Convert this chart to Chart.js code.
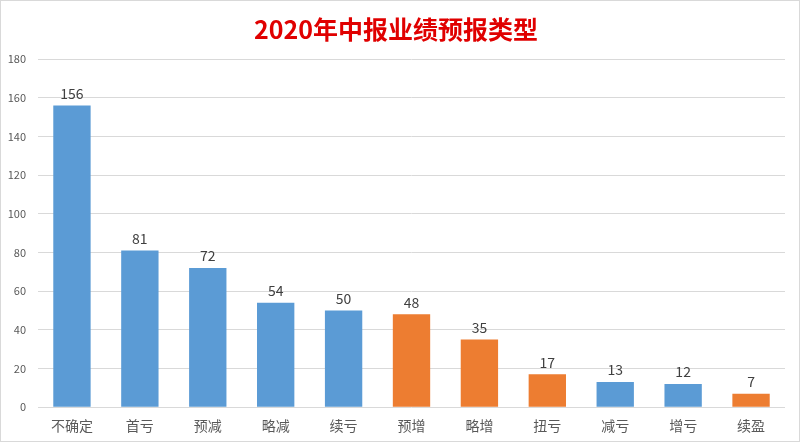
<!DOCTYPE html>
<html>
<head>
<meta charset="utf-8">
<script src="https://cdn.jsdelivr.net/npm/chart.js@4/dist/chart.umd.min.js"></script>
<style>
  html, body { margin: 0; padding: 0; background: #fff; }
  #wrap { position: relative; width: 798px; height: 440px; border: 1px solid #d9d9d9; }
</style>
</head>
<body>
<div id="wrap"><canvas id="reportChart"></canvas></div>
<script>
const categories = ["不确定", "首亏", "预减", "略减", "续亏", "预增", "略增", "扭亏", "减亏", "增亏", "续盈"];
const counts = [156, 81, 72, 54, 50, 48, 35, 17, 13, 12, 7];
const kinds = ["bad", "bad", "bad", "bad", "bad", "good", "good", "good", "bad", "bad", "good"];
const yTicks = [0, 20, 40, 60, 80, 100, 120, 140, 160, 180];

const FONT = "'Noto Sans CJK SC', 'Noto Sans', sans-serif";

const valueLabels = {
  id: "valueLabels",
  afterDatasetsDraw(chart) {
    const ctx = chart.ctx;
    const meta = chart.getDatasetMeta(0);
    ctx.save();
    ctx.font = "14px " + FONT;
    ctx.fillStyle = "#404040";
    ctx.textAlign = "center";
    ctx.textBaseline = "bottom";
    meta.data.forEach((bar, i) => {
      ctx.fillText(counts[i], bar.x, bar.y - 5);
    });
    ctx.restore();
  },
};

const chartBlock = document.querySelector("#reportChart").getContext("2d");

new Chart(chartBlock, {
  type: "bar",
  data: {
    labels: categories,
    datasets: [
      {
        data: counts,
        backgroundColor: kinds.map((k) => (k == "good" ? "#ed7d31" : "#5b9bd5")),
        categoryPercentage: 1,
        barPercentage: 0.55,
      },
    ],
  },
  options: {
    responsive: true,
    maintainAspectRatio: false,
    animation: false,
    layout: { padding: { left: 6, right: 14, top: 0, bottom: 5 } },
    plugins: {
      legend: { display: false },
      tooltip: { enabled: false },
      title: {
        display: true,
        text: "2020年中报业绩预报类型",
        color: "#e00000",
        font: { family: FONT, size: 25, weight: "bold" },
        padding: { top: 13, bottom: 15 },
      },
    },
    scales: {
      x: {
        grid: { display: false },
        border: { display: false },
        ticks: {
          color: "#595959",
          font: { family: FONT, size: 14 },
          padding: 2,
        },
      },
      y: {
        min: 0,
        max: 180,
        afterBuildTicks: (axis) => {
          axis.ticks = yTicks.map((v) => ({ value: v }));
        },
        afterFit: (axis) => {
          axis.width = 31;
        },
        grid: { color: "#d9d9d9", drawTicks: false },
        border: { display: false },
        ticks: {
          color: "#595959",
          font: { family: FONT, size: 11 },
          padding: 12,
        },
      },
    },
  },
  plugins: [valueLabels],
});
</script>
</body>
</html>
